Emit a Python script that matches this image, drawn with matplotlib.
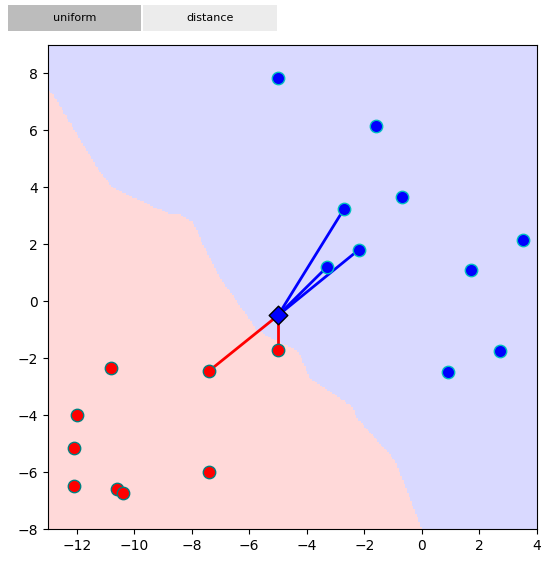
import matplotlib
matplotlib.use('Agg')
import matplotlib.pyplot as plt
import numpy as np

blue_x = [-5.0, -1.6, -0.7, 3.5, -2.7, -2.2, -3.3, 1.7, 2.7, 0.9]
blue_y = [7.85, 6.15, 3.65, 2.15, 3.25, 1.8, 1.2, 1.1, -1.75, -2.5]
red_x = [-5.0, -7.4, -10.8, -12.0, -12.1, -12.1, -10.6, -10.4, -7.4]
red_y = [-1.7, -2.45, -2.35, -4.0, -5.15, -6.5, -6.6, -6.75, -6.0]
query = (-5.0, -0.5)
k = 5

pts = np.array(list(zip(blue_x + red_x, blue_y + red_y)))
labels = np.array([1] * len(blue_x) + [0] * len(red_x))

fig = plt.figure(figsize=(5.57, 5.61), dpi=100)
ax = fig.add_axes([0.086, 0.057, 0.878, 0.863])

# background: k-nearest-neighbour vote on a grid
gx, gy = np.meshgrid(np.linspace(-13, 4, 300), np.linspace(-8, 9, 300))
g = np.c_[gx.ravel(), gy.ravel()]
d = ((g[:, None, :] - pts[None, :, :]) ** 2).sum(-1)
nn = np.argsort(d, axis=1)[:, :k]
vote = (labels[nn].mean(axis=1) > 0.5).astype(float).reshape(gx.shape)
ax.pcolormesh(gx, gy, vote, cmap=matplotlib.colors.ListedColormap(['#ffd9d9', '#d9d9ff']),
              shading='auto')

# lines from query to its neighbours
dq = ((pts - np.array(query)) ** 2).sum(1)
for i in np.argsort(dq)[:k]:
    ax.plot([query[0], pts[i, 0]], [query[1], pts[i, 1]],
            color='blue' if labels[i] else 'red', lw=2, zorder=2)

ax.scatter(blue_x, blue_y, s=80, c='blue', edgecolors='#00c0c0', lw=1, zorder=3)
ax.scatter(red_x, red_y, s=80, c='red', edgecolors='#008080', lw=1, zorder=3)
ax.scatter([query[0]], [query[1]], s=90, marker='D', c='blue', edgecolors='black', zorder=4)

ax.set_xlim(-13, 4)
ax.set_ylim(-8, 9)
ax.set_xticks([-12, -10, -8, -6, -4, -2, 0, 2, 4])
ax.set_yticks([-8, -6, -4, -2, 0, 2, 4, 6, 8])

# buttons
for x0, txt, col in [(0.014, 'uniform', '#bcbcbc'), (0.257, 'distance', '#ececec')]:
    bax = fig.add_axes([x0, 0.945, 0.24, 0.046])
    bax.set_facecolor(col)
    bax.set_xticks([])
    bax.set_yticks([])
    for s in bax.spines.values():
        s.set_visible(False)
    bax.text(0.5, 0.5, txt, ha='center', va='center', fontsize=8, transform=bax.transAxes)

fig.savefig('out.png', dpi=100)
